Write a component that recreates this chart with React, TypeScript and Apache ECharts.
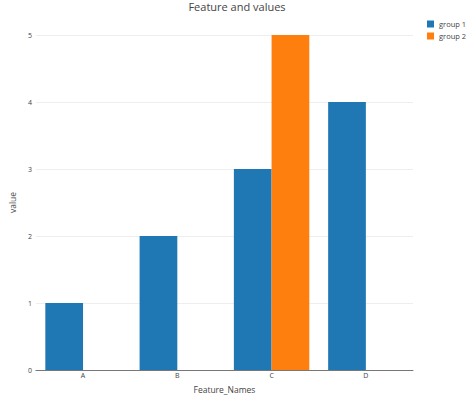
import React, { useEffect, useRef } from "react";
import * as echarts from "echarts";

const categories = ["A", "B", "C", "D"];
const group1 = [1, 2, 3, 4];
const group2: (number | null)[] = [null, null, 5, null];
const yTicks = [0, 1, 2, 3, 4, 5];

export default function App() {
  const ref = useRef<HTMLDivElement>(null);
  useEffect(() => {
    if (!ref.current) return;
    const chart = echarts.init(ref.current, undefined, { renderer: "svg" });
    const font = "'Open Sans', sans-serif";
    chart.setOption({
      animation: false,
      backgroundColor: "#fff",
      textStyle: { fontFamily: font, color: "#444" },
      title: {
        text: "Feature and values",
        left: "center",
        top: 1,
        padding: 0,
        textStyle: { fontFamily: font, fontSize: 11, fontWeight: "normal", color: "#444" },
      },
      legend: {
        orient: "vertical",
        left: 427,
        top: 20,
        padding: 0,
        itemWidth: 7,
        itemHeight: 7,
        itemGap: 4,
        icon: "rect",
        textStyle: { fontFamily: font, fontSize: 7.5, color: "#444", padding: [0, 0, 0, 0] },
        data: ["group 1", "group 2"],
      },
      grid: { left: 35, right: 61, top: 35, bottom: 24, containLabel: false },
      xAxis: {
        type: "category",
        data: categories,
        name: "Feature_Names",
        nameLocation: "middle",
        nameGap: 15,
        nameTextStyle: { fontFamily: font, fontSize: 8.5, color: "#444" },
        axisLine: { lineStyle: { color: "#777", width: 1 } },
        axisTick: { show: false },
        axisLabel: { fontFamily: font, fontSize: 7, color: "#444", margin: 2 },
      },
      yAxis: {
        type: "value",
        min: yTicks[0],
        max: yTicks[yTicks.length - 1],
        interval: 1,
        name: "value",
        nameLocation: "middle",
        nameGap: 15,
        nameTextStyle: { fontFamily: font, fontSize: 8.5, color: "#444" },
        axisLine: { show: false },
        axisTick: { show: false },
        axisLabel: { fontFamily: font, fontSize: 7, color: "#444", margin: 4 },
        splitLine: { lineStyle: { color: "#eee", width: 1 } },
      },
      series: [
        {
          name: "group 1",
          type: "bar",
          data: group1,
          itemStyle: { color: "#1f77b4" },
          barGap: "0%",
          barCategoryGap: "20%",
        },
        {
          name: "group 2",
          type: "bar",
          data: group2,
          itemStyle: { color: "#ff7f0e" },
          barGap: "0%",
          barCategoryGap: "20%",
        },
      ],
    });
    return () => chart.dispose();
  }, []);
  return (
    <div
      ref={ref}
      style={{ position: "fixed", left: 0, top: 0, width: 474, height: 399 }}
    />
  );
}
